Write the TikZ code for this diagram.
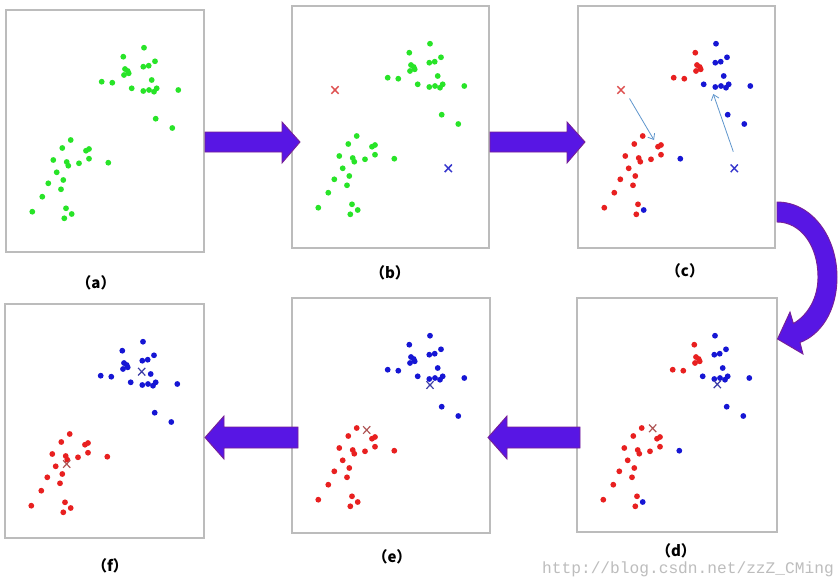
\documentclass[tikz,border=0pt]{standalone}
\usepackage{fontspec}
\newfontfamily\cjk{Noto Sans CJK SC}
\newfontfamily\wmfont{Liberation Mono}
\usetikzlibrary{arrows.meta}
\definecolor{ptgreen}{RGB}{40,228,40}
\definecolor{ptred}{RGB}{232,32,32}
\definecolor{ptblue}{RGB}{22,22,212}
\definecolor{xred}{RGB}{222,80,80}
\definecolor{xblue}{RGB}{55,55,205}
\definecolor{xredd}{RGB}{175,85,85}
\definecolor{xblued}{RGB}{60,60,165}
\definecolor{arrfill}{RGB}{88,22,228}
\definecolor{arrline}{RGB}{118,32,150}
\definecolor{thinarr}{RGB}{95,150,205}
\definecolor{framec}{RGB}{188,188,188}

\def\ptsUR{117.3/46.7, 119/59, 121.7/61, 118/65, 122.7/63.3, 95.7/71.7, 106.3/72.7}
\def\ptsUB{138/37.7, 149/51.3, 137.3/56.7, 142.7/55.7, 145.7/70, 125.7/78.3, 137.3/81, 143/80, 148/81.7, 150.7/78.3, 172.3/80, 149.7/108.7, 166.3/118}
\def\ptsLR{64.7/130, 56.3/138, 80/140.7, 83/139, 47.3/150, 60.7/152, 62.3/155.7, 73/153.3, 83/148.7, 50.7/162.3, 57.3/170, 42.3/173.3, 55/179.3, 36.3/186.7, 26.3/201.7, 60/198.3, 58.3/208.3}
\def\ptsLB{102.3/152.7, 65.7/204}

\newcommand\dotset[2]{\foreach \px/\py in #2 {\fill[#1] (\px,\py) circle[radius=2.9];}}
\newcommand\xcross[4]{\draw[#1, line width=#4] (#2,#3) ++(-3.6,-3.8) -- ++(7.2,7.6) ++(-7.2,0) -- ++(7.2,-7.6);}

\tikzset{
  panel/.style={draw=framec, line width=2, fill=white, outer sep=0, inner sep=0, anchor=north west},
  blockarrow/.style={fill=arrfill, draw=arrline, line width=0.9, line join=miter},
  lbl/.style={font=\cjk\bfseries\fontsize{15}{17}\selectfont, inner sep=0, anchor=base},
  moveline/.style={draw=thinarr, line width=0.8, -{Straight Barb[length=5pt,width=8pt]}}
}

\begin{document}
\begin{tikzpicture}[x=1pt, y=-1pt]
\useasboundingbox (0,0) rectangle (839,579);
\fill[white] (0,0) rectangle (839,579);

% panels
\node[panel, minimum width=198, minimum height=242] (pa) at (6,10) {};
\node[panel, minimum width=197, minimum height=242] (pb) at (292,6) {};
\node[panel, minimum width=197, minimum height=242] (pc) at (578,6) {};
\node[panel, minimum width=200, minimum height=234] (pd) at (577,298) {};
\node[panel, minimum width=198, minimum height=235] (pe) at (292,298) {};
\node[panel, minimum width=199, minimum height=234] (pf) at (5,304) {};

% (a)
\begin{scope}[shift={(pa.north west)}]
  \dotset{ptgreen}{\ptsUR}\dotset{ptgreen}{\ptsUB}\dotset{ptgreen}{\ptsLR}\dotset{ptgreen}{\ptsLB}
\end{scope}
% (b)
\begin{scope}[shift={(pb.north west)}]
  \dotset{ptgreen}{\ptsUR}\dotset{ptgreen}{\ptsUB}\dotset{ptgreen}{\ptsLR}\dotset{ptgreen}{\ptsLB}
  \xcross{xred}{43}{84}{1.5}
  \xcross{xblue}{156.3}{162.3}{1.5}
\end{scope}
% (c)
\begin{scope}[shift={(pc.north west)}]
  \dotset{ptred}{\ptsUR}\dotset{ptblue}{\ptsUB}\dotset{ptred}{\ptsLR}\dotset{ptblue}{\ptsLB}
  \xcross{xred}{43}{84}{1.4}
  \xcross{xblue}{156.3}{162.3}{1.4}
  \coordinate (cr1) at (51.5,92.5);
  \coordinate (cr2) at (76,134);
  \coordinate (cb1) at (155.3,145.7);
  \coordinate (cb2) at (135.3,88);
  \draw[moveline] (cr1) -- (cr2);
  \draw[moveline] (cb1) -- (cb2);
\end{scope}
% (d)
\begin{scope}[shift={(pd.north west)}]
  \dotset{ptred}{\ptsUR}\dotset{ptblue}{\ptsUB}\dotset{ptred}{\ptsLR}\dotset{ptblue}{\ptsLB}
  \xcross{xredd}{75.7}{130.3}{1.2}
  \xcross{xblued}{140.3}{86.3}{1.2}
\end{scope}
% (e)
\begin{scope}[shift={(pe.north west)}]
  \dotset{ptblue}{\ptsUR}\dotset{ptblue}{\ptsUB}\dotset{ptred}{\ptsLR}\dotset{ptred}{\ptsLB}
  \xcross{xredd}{74.7}{132}{1.2}
  \xcross{xblued}{138}{87}{1.2}
\end{scope}
% (f)
\begin{scope}[shift={(pf.north west)}]
  \dotset{ptblue}{\ptsUR}\dotset{ptblue}{\ptsUB}\dotset{ptred}{\ptsLR}\dotset{ptred}{\ptsLB}
  \xcross{xredd}{61.7}{160}{1.2}
  \xcross{xblued}{136.7}{67.7}{1.2}
\end{scope}

% block arrows
\draw[blockarrow] (205,132) -- (282,132) -- (282,122) -- (300,142) -- (282,163) -- (282,152) -- (205,152) -- cycle;
\draw[blockarrow] (490,132) -- (567,132) -- (567,122) -- (585,142) -- (567,163) -- (567,152) -- (490,152) -- cycle;
\draw[blockarrow] (580,427) -- (507,427) -- (507,416) -- (488,437.5) -- (507,459) -- (507,448) -- (580,448) -- cycle;
\draw[blockarrow] (298,427) -- (224,427) -- (224,416) -- (205,437.5) -- (224,459) -- (224,448) -- (298,448) -- cycle;
\draw[blockarrow] (777,202) .. controls (812,202) and (837,237) .. (837,277)
  .. controls (837,312) and (820,335) .. (800,342.5) -- (803,354) -- (777.5,339) -- (790,312) -- (793.4,323.5)
  .. controls (808,315) and (818,298) .. (818,277)
  .. controls (818,246) and (801,222) .. (777,222) -- cycle;

% watermark
\node[anchor=base east, font=\wmfont\fontsize{16.2}{18}\selectfont, text=black!26, inner sep=0] (wm) at (834,573.5) {http://blog.csdn.net/zzZ\_CMing};

% labels
\node[lbl] (la) at (96,288) {（a）};
\node[lbl] (lb) at (390,278) {（b）};
\node[lbl] (lc) at (685,276) {（c）};
\node[lbl] (ld) at (676,556) {（d）};
\node[lbl] (le) at (392,562) {（e）};
\node[lbl] (lf) at (110,571) {（f）};
\end{tikzpicture}
\end{document}
